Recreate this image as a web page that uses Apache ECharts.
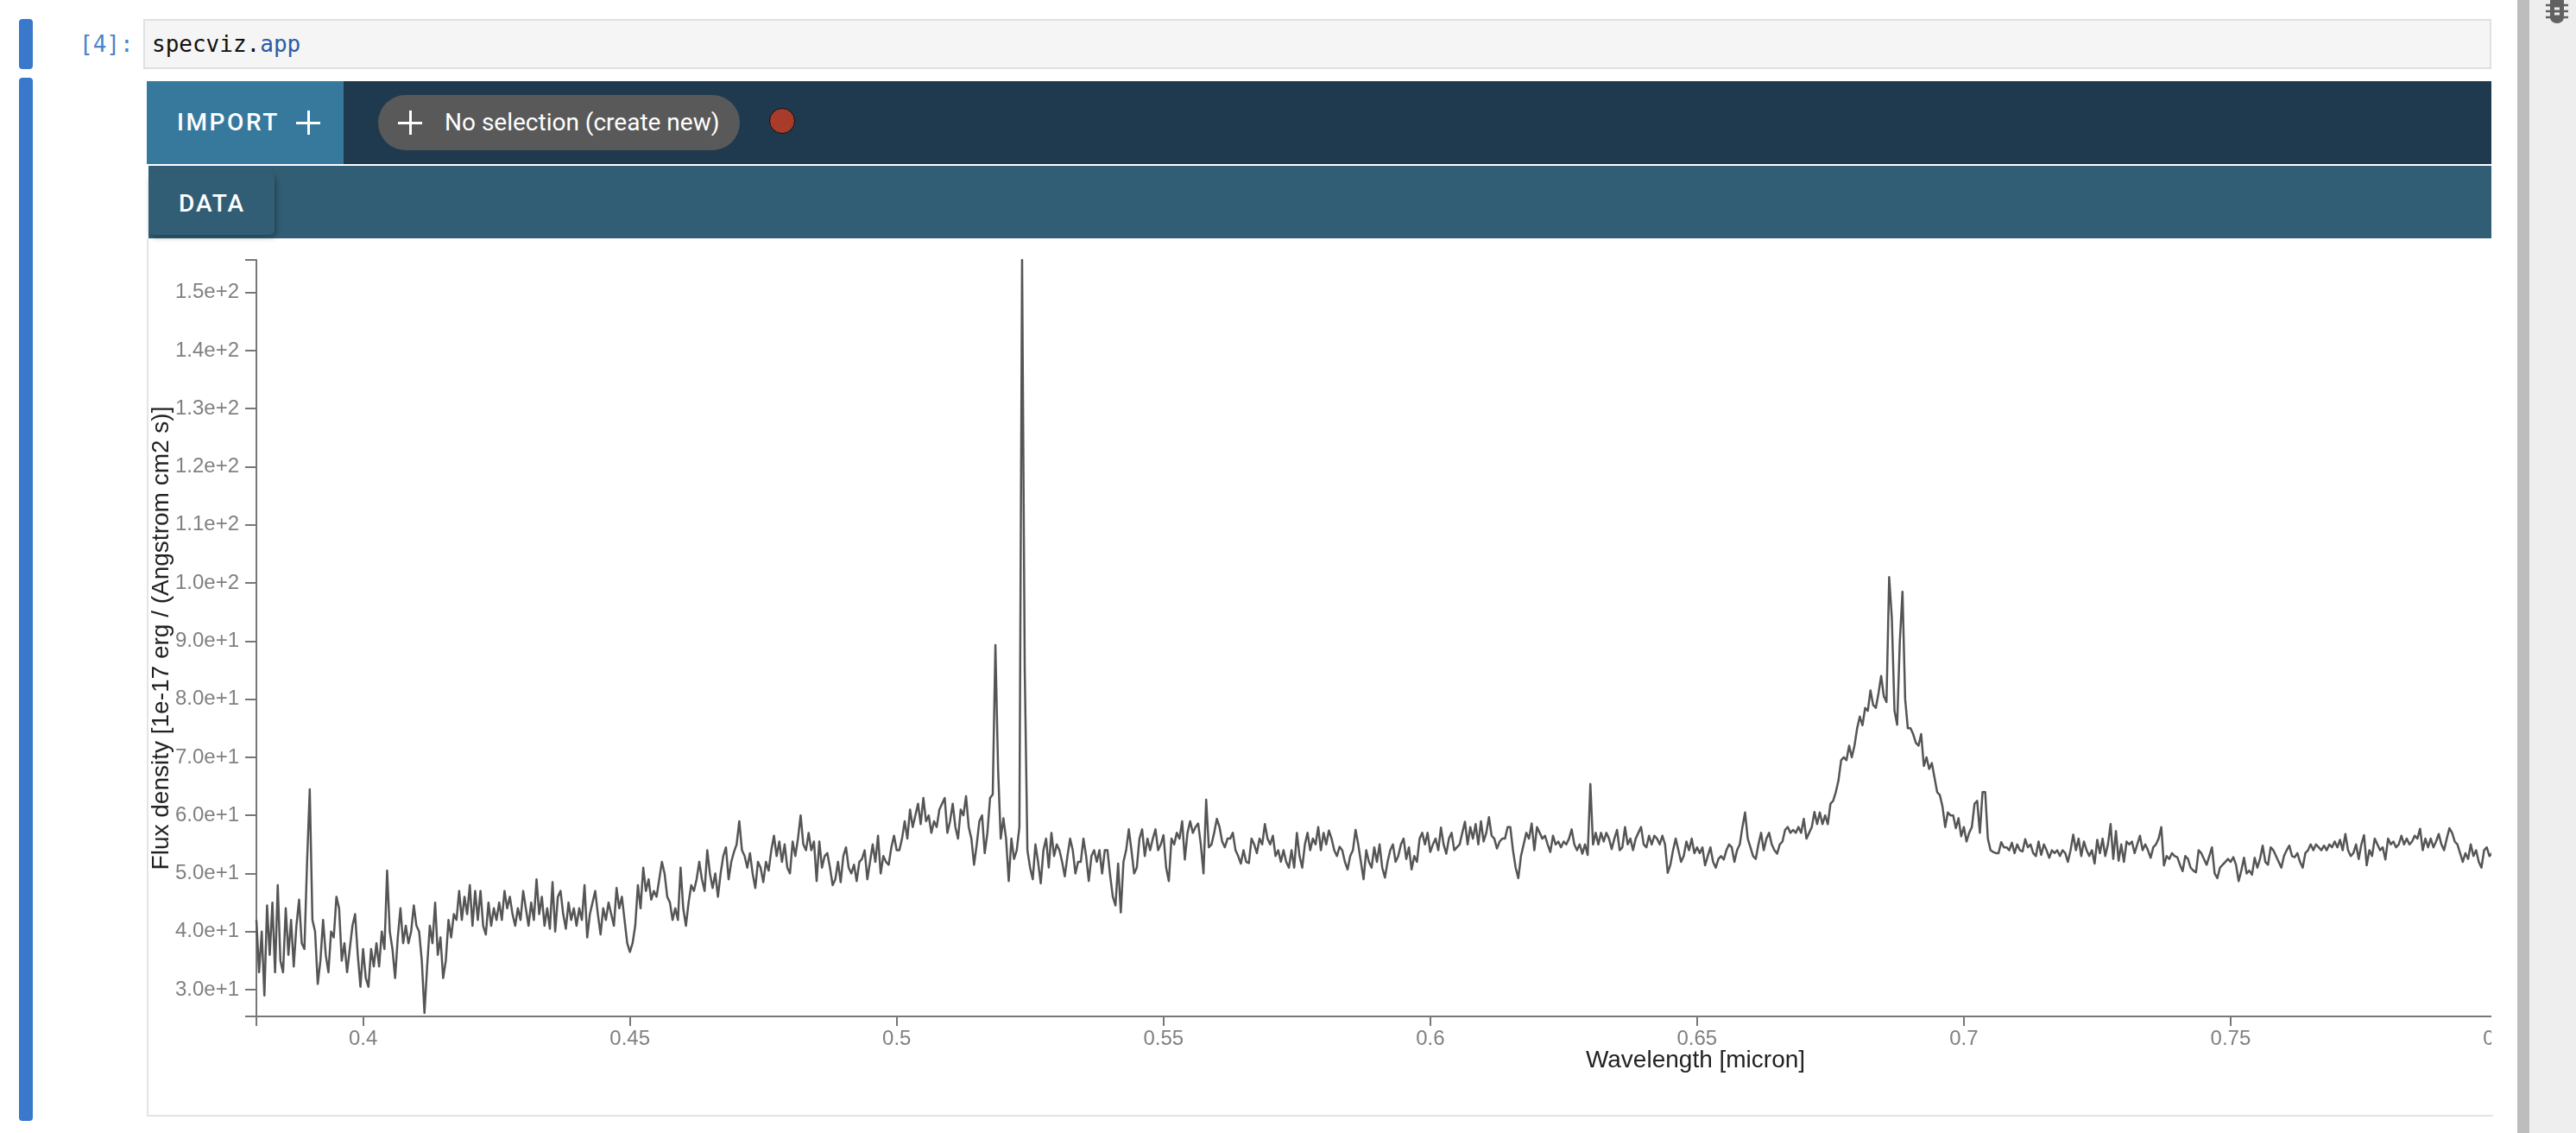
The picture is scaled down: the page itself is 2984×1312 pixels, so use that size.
<!DOCTYPE html>
<html>
<head>
<meta charset="utf-8">
<title>specviz</title>
<script src="https://cdn.jsdelivr.net/npm/echarts@6/dist/echarts.min.js"></script>
<style>
html,body{margin:0;padding:0;width:2984px;height:1312px;overflow:hidden;background:#fff}
.abs{position:absolute}
.ui{font-family:Roboto,sans-serif;color:#fff;font-size:28px;line-height:32px;white-space:nowrap}
.mono{font-family:"DejaVu Sans Mono",monospace;font-size:26px;line-height:32px;white-space:pre}
.plus{position:absolute;width:28px;height:28px;background:linear-gradient(#fff,#fff) center/28px 3px no-repeat,linear-gradient(#fff,#fff) center/3px 28px no-repeat}
#chart{position:absolute;left:0;top:0;width:2886px;height:1312px}
</style>
</head>
<body>
<div class="abs" style="left:22px;top:22px;width:16px;height:58px;background:#3a78cc;border-radius:4px"></div>
<div class="abs" style="left:22px;top:90px;width:16px;height:1208px;background:#3a78cc;border-radius:4px"></div>
<div class="abs mono" style="left:92px;top:35px;color:#4a84c8">[4]:</div>
<div class="abs" style="left:166px;top:22px;width:2716px;height:54px;background:#f5f5f5;border:2px solid #e0e0e0"></div>
<div class="abs mono" style="left:176px;top:35px;color:#111">specviz.<span style="color:#2a5ba8">app</span></div>

<div class="abs" style="left:170px;top:94px;width:2716px;height:96px;background:#1f3a4e"></div>
<div class="abs" style="left:170px;top:94px;width:228px;height:96px;background:#36799d"></div>
<div class="abs ui" style="left:205px;top:126px;font-weight:500;letter-spacing:2.6px">IMPORT</div>
<div class="plus" style="left:343px;top:128px"></div>
<div class="abs" style="left:438px;top:110px;width:419px;height:64px;background:#595959;border-radius:32px"></div>
<div class="plus" style="left:461px;top:128px"></div>
<div class="abs ui" style="left:515px;top:126px">No selection (create new)</div>
<div class="abs" style="left:891px;top:125px;width:28px;height:28px;background:#a93b2b;border:1.5px solid #111;border-radius:50%"></div>

<div class="abs" style="left:172px;top:192px;width:2714px;height:84px;background:#325e75"></div>
<div class="abs" style="left:172px;top:200px;width:146px;height:72px;background:#325e75;border-radius:6px;box-shadow:2px 3px 6px rgba(0,0,0,.3)"></div>
<div class="abs ui" style="left:207px;top:220px;font-weight:500;letter-spacing:2px">DATA</div>

<div class="abs" style="left:170px;top:276px;width:2716px;height:1015px;border-left:2px solid #e4e4e4;border-bottom:2px solid #e4e4e4"></div>

<div class="abs" style="left:2916px;top:0;width:14px;height:1312px;background:#bdbdbd"></div>
<div class="abs" style="left:2930px;top:0;width:54px;height:1312px;background:#eeeeee"></div>
<svg class="abs" style="left:2948px;top:0" width="28" height="28" viewBox="0 0 28 28">
  <path d="M6 0h16v20a8 7 0 0 1-16 0z" fill="#616161"/>
  <path d="M1 6h26M1 13h26M1 20h26" stroke="#616161" stroke-width="2.5"/>
  <path d="M11 10h6M11 16h6" stroke="#eeeeee" stroke-width="3"/>
</svg>

<div id="chart"></div>

<script>
// wavelength grid of the spectrum, micron
const waveStart = 0.38;
const waveStep = 0.0005;

// flux, one value per grid step, ten per row
const fluxBlue = [
  42,33,40,29,44.5,36,45,33,48,35,
  33,44,36,42,34,41,45.5,38,37,52,
  64.5,42,40,31,35,42,36,33,40,39,
  46,44,35,38,33,37,41,43,36,30.5,
  37,32,30.5,37,34,38,34,40,37,50.5,
  40,37,32,39,44,38,41,38,40,44.5,
  41,40,35,26,34,41,38,45,36,39,
  32,35,42,39,43,42,47,42,46,43,
  48,41,47,42,47,41,39.5,45,41,44,
  42,45,42,47,44,46,43,41,44,42,
  47,44,41,45,42,49,43,46,41,44,
  40.5,48.5,40,46,47,43,40.5,45,42,44,
  41,44,42,48,39,43,45,47,43,39.5,
  44,42,45,43,41,47.5,44,46,42,38,
  36.5,38,41,48,44,51,47,49,45.5,47,
  46,49,52,50,46,45,42,44,42,51,
  44,41,45,48,47,49,52,49,47,54,
  50,47.5,50,46,50,53,54.5,49,52,53.7,
  55,59,54,53,51,53.5,50,47.5,52,51,
  48.5,52,50.5,54,56.5,53,55.5,52,55,51,
  50,55.5,53,56,60,55,54,57,54,55.5,
  48.7,55.5,51,53,53.5,51,48,49,52,48.5,
  53,54.5,51,50,51.5,48.7,52,52.5,54,49,
  52,55,52,56.5,50,53,52,51.5,54.5,56.5
];
const fluxGreen = [
  54,54,56,59,56,61,58,60,62,58.5,
  63,59,60,57,59,58,61,62,63,57,
  59,62,58,56,61,60,63.3,58,56,51.5,
  55,59,60,53.5,57,63,63.6,89.3,68,56,
  59.5,56,48.7,56,52.5,54,58,155.6,85,54,
  51,49,55,52,48.3,54,56,51,57,53,
  55,54,52,49.5,53,56,54,50,52,52,
  56,53,48.7,53,54,52,54,50,54,54,
  49.7,46,44.5,51.7,43.3,52,54,57.6,54,50,
  51,56,57.6,53,56,54,56,57.6,54,55,
  56.6,51,48.7,56,55,57,56,59,52.4,57,
  59,57,58,58.6,55,50,62.7,54.5,55,57,
  59.4,58,55.5,54.5,56,56,57,54,53,51.7,
  54,52,51.8,56,55,53.5,56,55,58.5,56,
  55,56.5,53,54,52,54,52,51,54,51,
  57,53,51,55,57,54,56,55,58,54,
  57,55,57.4,56,54,53,54.6,54,52,50.7,
  53,54,57.5,55,52,49,54,52,51,54.5,
  52,55,51,49.3,52,54,55,52,53,55,
  56,52.5,54.5,50.7,53,52,56,57,55,57,
  53.7,55,56,54,57.9,55,53.4,56,57,54,
  54.5,55,57,58.9,55,58,56,58.5,55,59,
  55.5,57,59.7,56.5,56,54.3,55.5,56,56,58,
  58,54,51,49.2,53,55,57,56,58.6,54,
  58,57,56,56.5,55,53.7,56.5,55,55.5,54.5,
  55.5,55,56,57.6,55,54,55,53.4,55,53.2,
  65.4,55,57,55,57,55.5,57,56,54.2,56,
  57.5,54,54.5,58,55,56,54,56,57,58,
  55,54.5,56.5,55,56.5,56,55,56.5,55,50.1,
  51.5,54,56,54,52,53,55.5,54,56,53.5,
  54.5,53.5,54.5,51.4,53,54.5,52,51,52.5,53,
  52.4,54,55,54.5,52,54,55,58,60.5,56,
  54.5,53,52.5,55,57,54,56,57,55,54,
  53.4,55,55.5,57.5,58,57,57.5,57,58,57,
  59.4,56,57,58,60.6,58.5,60.5,58.5,60,58.5
];
const fluxRed = [
  62,62.5,64,66,69.5,70,69.5,72,70,72,
  75,77,75.5,78.5,78,81.5,79,78.5,81,84,
  80.5,79.5,101,94,78,75.6,90,98.5,80,75,
  75,74,72.5,72,74,68.5,70,68,69,66.5,
  64,63.5,61.5,58,60.5,60,60,57.8,59.5,56.4,
  58,55.5,57,58,62,62.5,57,64,64,56,
  54,53.7,53.5,53.5,55.4,54.5,54.5,54,55.3,53.5,
  55,54,53.8,55.9,54.5,55,53.5,53,55.5,53.2,
  55,54,52.7,54,53.5,54,53,54,53.5,52,
  54,56.7,54,56,53,55.5,54,53,54,51.7,
  55.8,53.5,56,53,55,58.5,52.5,57.3,52.2,55,
  52,55.5,55,55.5,53.5,55,56.5,54,55,54,
  52.7,54.5,55,56,58,51.4,53,52.5,53.5,53,
  52.8,51.5,50.4,53,52.5,51,50.5,50.2,54,53.5,
  52.5,51.5,53,54.5,50,49.2,51,51.5,52,52.5,
  52,52.8,51.5,48.7,50.5,52.7,50,50.5,49.8,52.7,
  51,52.5,54.8,52,51.5,54.5,54,53,52,51,
  53,54,54.8,53,52.8,53.5,52,51,53.5,54,
  55,54,55,54.5,54,54.8,54,55,54.5,55.5,
  54.5,55.8,54,56.8,54,53,53.5,55,52.5,55,
  56.6,51.4,54,53,56,55,54,54.5,52.4,56,
  55,55.5,54.5,55,56.5,55,56,55,55.5,56.5,
  56,57.7,54,56,54.5,56,54.5,55.5,56.8,55,
  54,56,57.8,57,55.5,55,53.5,52,53.5,52.5,
  55,53,54,52,51,54,54.5,53,53.5,53,
  53.5
];
const flux = fluxBlue.concat(fluxGreen, fluxRed);

const xTickLabels = [0.4,0.45,0.5,0.55,0.6,0.65,0.7,0.75,0.8];
const yTickLabels = [30,40,50,60,70,80,90,100,110,120,130,140,150];
const xMin = 0.38, xMax = 0.8;
const yMin = 25.4, yMax = 155.6;

const axisGrey = '#777777';
const labelGrey = '#808080';

let chart = echarts.init(document.getElementById('chart'));
chart.setOption({
    animation:false,
    grid:{left:297,top:301,width:2596,height:876,outerBoundsMode:'none',containLabel:false},
    xAxis:{
        type:'value',
        min:xMin,
        max:xMax,
        name:'Wavelength [micron]',
        nameLocation:'middle',
        nameGap:37,
        nameMoveOverlap:false,
        nameTextStyle:{fontFamily:'Liberation Sans',fontSize:28,color:'#222',padding:[0,0,0,738]},
        splitLine:{show:false},
        axisLine:{onZero:false,lineStyle:{color:axisGrey,width:2}},
        axisTick:{length:11,lineStyle:{color:axisGrey,width:2},customValues:[xMin].concat(xTickLabels)},
        axisLabel:{
            customValues:xTickLabels,
            margin:14,
            fontFamily:'Liberation Sans',
            fontSize:24,
            color:labelGrey,
            formatter:(v)=>String(v)
        }
    },
    yAxis:{
        type:'value',
        min:yMin,
        max:yMax,
        name:'Flux density [1e-17 erg / (Angstrom cm2 s)]',
        nameLocation:'middle',
        nameGap:96,
        nameRotate:90,
        nameMoveOverlap:false,
        nameTextStyle:{fontFamily:'Liberation Sans',fontSize:28,color:'#222'},
        splitLine:{show:false},
        axisLine:{onZero:false,show:true,lineStyle:{color:axisGrey,width:2}},
        axisTick:{show:true,length:13,lineStyle:{color:axisGrey,width:2},customValues:[yMin].concat(yTickLabels,[yMax])},
        axisLabel:{
            customValues:yTickLabels,
            margin:20,
            padding:[0,0,6,0],
            fontFamily:'Liberation Sans',
            fontSize:24,
            color:labelGrey,
            formatter:(v)=>v.toExponential(1)
        }
    },
    series:[{
        type:'line',
        data:flux.map((f,i)=>[waveStart+i*waveStep,f]),
        showSymbol:false,
        symbol:'none',
        silent:true,
        lineStyle:{color:'#555555',width:2.5,join:'round'}
    }]
});
</script>
</body>
</html>
